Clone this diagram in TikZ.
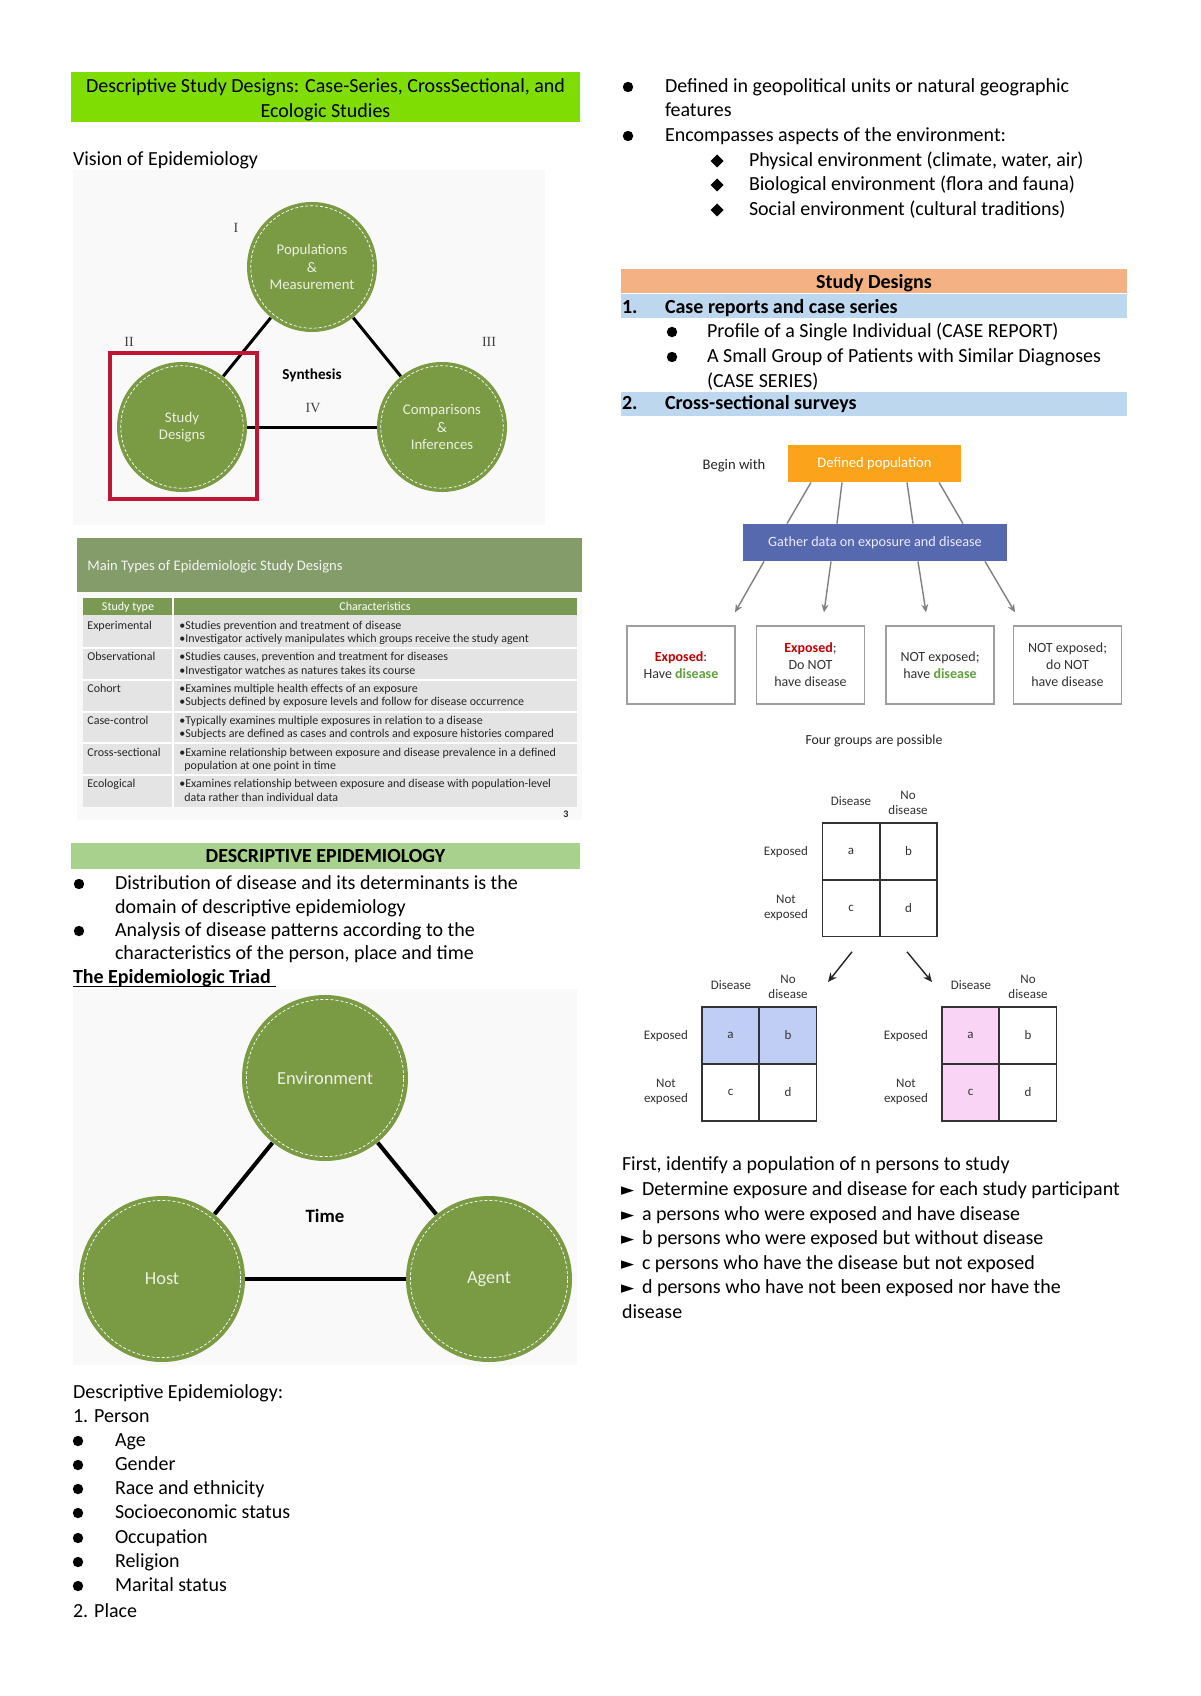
\documentclass[tikz,border=0pt]{standalone}
\usepackage{fontspec}
\setmainfont{Carlito}
\newfontfamily\djv{DejaVu Sans}
\newfontfamily\romanfont{Liberation Serif}
\usetikzlibrary{arrows.meta}
\definecolor{hdrgreen}{RGB}{127,221,3}
\definecolor{lgreen}{RGB}{169,209,142}
\definecolor{sdorange}{RGB}{244,177,131}
\definecolor{sdblue}{RGB}{189,215,238}
\definecolor{circgreen}{RGB}{122,154,68}
\definecolor{circtext}{RGB}{235,240,225}
\definecolor{ttlgreen}{RGB}{132,156,106}
\definecolor{hdrrow}{RGB}{122,154,84}
\definecolor{tblgray}{RGB}{228,228,228}
\definecolor{redboxc}{RGB}{192,22,52}
\definecolor{popor}{RGB}{251,163,27}
\definecolor{gathblue}{RGB}{86,104,174}
\definecolor{exred}{RGB}{192,0,0}
\definecolor{disgreen}{RGB}{96,160,60}
\definecolor{cellblue}{RGB}{192,205,245}
\definecolor{cellpink}{RGB}{250,212,245}
\definecolor{imgbg}{RGB}{249,249,249}
\begin{document}
\begin{tikzpicture}[x=0.5pt,y=-0.5pt,
 tl/.style={anchor=base west, inner sep=0pt, outer sep=0pt, yshift=-0.5pt, font=\fontsize{10}{12.4}\selectfont},
 tcn/.style={anchor=base, inner sep=0pt, outer sep=0pt, yshift=-0.5pt, font=\fontsize{10}{12.4}\selectfont},
 vcirc/.style={circle, fill=circgreen, minimum size=65pt, inner sep=0pt, text=circtext, align=center, font=\fontsize{7.4}{8.6}\selectfont},
 tcirc/.style={circle, fill=circgreen, minimum size=83pt, inner sep=0pt, text=circtext, align=center, font=\fontsize{9.2}{11}\selectfont},
 ring/.style={white, line width=0.35pt, dash pattern=on 1.5pt off 1pt},
 vline/.style={line width=1.5pt, black},
 tline/.style={line width=2pt, black},
 roman/.style={inner sep=0pt, font=\romanfont\fontsize{7}{8}\selectfont, text=black!75},
 tbl/.style={anchor=base west, inner sep=0pt, font=\fontsize{6}{7}\selectfont, text=black!85},
 fbox/.style={draw=gray!75, line width=0.7pt, fill=white, minimum width=54pt, minimum height=39pt, inner sep=0pt, align=center, font=\fontsize{7}{8.5}\selectfont, text=black!80},
 cell/.style={draw=black!80, line width=0.8pt, minimum size=28.5pt, inner sep=0pt, font=\fontsize{6.5}{7}\selectfont, text=black!80},
 lbl/.style={align=center, inner sep=0pt, font=\fontsize{6.5}{7.5}\selectfont, text=black!80},
 glin/.style={draw=gray, line width=0.7pt},
 garr/.style={draw=gray, line width=0.7pt, -{Stealth[length=4pt,width=3.5pt]}},
 barr/.style={draw=black!85, line width=0.7pt, -{Stealth[length=4.5pt,width=4pt]}}
]
\useasboundingbox (0,0) rectangle (1200,1696);
\fill[white] (0,0) rectangle (1200,1696);

% ================= LEFT COLUMN =================
\fill[hdrgreen] (71,72) rectangle (580,122);
\node[tcn] (h1) at (325.5,91.5) {Descriptive Study Designs: Case-Series, CrossSectional, and};
\node[tcn] (h2) at (325.5,116.5) {Ecologic Studies};
\node[tl] (vis) at (73,165) {Vision of Epidemiology};

% Vision diagram
\fill[imgbg] (73,170) rectangle (545,525);
\node[vcirc] (pop) at (312,267) {Populations\\\&\\Measurement};
\node[vcirc] (study) at (182,427) {Study\\Designs};
\node[vcirc] (comp) at (442,427) {Comparisons\\\&\\Inferences};
\foreach \c in {pop,study,comp} \draw[ring] (\c.center) circle (30.6pt);
\draw[vline] (pop) -- (study);
\draw[vline] (pop) -- (comp);
\draw[vline] (study) -- (comp);
\node[draw=redboxc, line width=2pt, minimum width=73.5pt, minimum height=73pt, inner sep=0pt] (rbox) at (183.5,426) {};
\node[roman] (r1) at (236,228) {I};
\node[roman] (r2) at (129,342) {II};
\node[roman] (r3) at (489,342) {III};
\node[roman] (r4) at (313,408) {IV};
\node[inner sep=0pt, font=\bfseries\fontsize{7.6}{9}\selectfont] (syn) at (312,375) {Synthesis};

% Main types table
\fill[imgbg] (77,538) rectangle (582,820);
\fill[ttlgreen] (77,538) rectangle (582,592);
\node[anchor=base west, inner sep=0pt, font=\fontsize{7.3}{9}\selectfont, text=white!92!gray] (ttl) at (87,570) {Main Types of Epidemiologic Study Designs};
\fill[hdrrow] (83,598) rectangle (577,615);
\fill[tblgray] (83,615) rectangle (577,807);
\draw[white, line width=0.6pt] (173,598) -- (173,807);
\foreach \yy in {648,680,712,743,775} \draw[white, line width=0.6pt] (83,\yy) -- (577,\yy);
\node[tbl, anchor=base, text=white] (th1) at (128,610) {Study type};
\node[tbl, anchor=base, text=white] (th2) at (375,610) {Characteristics};
\node[tbl] (e0) at (87,629) {Experimental};
\node[tbl] (e1) at (179,629) {•Studies prevention and treatment of disease};
\node[tbl] (e2) at (179,642) {•Investigator actively manipulates which groups receive the study agent};
\node[tbl] (o0) at (87,660) {Observational};
\node[tbl] (o1) at (179,660) {•Studies causes, prevention and treatment for diseases};
\node[tbl] (o2) at (179,674) {•Investigator watches as natures takes its course};
\node[tbl] (c0) at (87,692) {Cohort};
\node[tbl] (c1) at (179,692) {•Examines multiple health effects of an exposure};
\node[tbl] (c2) at (179,705) {•Subjects defined by exposure levels and follow for disease occurrence};
\node[tbl] (k0) at (87,724) {Case-control};
\node[tbl] (k1) at (179,724) {•Typically examines multiple exposures in relation to a disease};
\node[tbl] (k2) at (179,737) {•Subjects are defined as cases and controls and exposure histories compared};
\node[tbl] (s0) at (87,756) {Cross-sectional};
\node[tbl] (s1) at (179,756) {•Examine relationship between exposure and disease prevalence in a defined};
\node[tbl] (s2) at (184,769) {population at one point in time};
\node[tbl] (g0) at (87,787) {Ecological};
\node[tbl] (g1) at (179,787) {•Examines relationship between exposure and disease with population-level};
\node[tbl] (g2) at (184,801) {data rather than individual data};
\node[tbl, font=\bfseries\fontsize{5}{6}\selectfont] (pg) at (563,817) {3};

% Descriptive epidemiology
\fill[lgreen] (71,843) rectangle (580,869);
\node[tcn, font=\bfseries\fontsize{10}{12.4}\selectfont] (de) at (325.5,861) {DESCRIPTIVE EPIDEMIOLOGY};
\fill (79,884) circle[radius=2.6pt];
\fill (79,931) circle[radius=2.6pt];
\node[tl] (d1) at (115,888) {Distribution of disease and its determinants is the};
\node[tl] (d2) at (115,912) {domain of descriptive epidemiology};
\node[tl] (d3) at (115,935) {Analysis of disease patterns according to the};
\node[tl] (d4) at (115,958) {characteristics of the person, place and time};
\node[tl] (tri) at (73,982) {\textbf{The Epidemiologic Triad}};
\draw[line width=0.6pt] ([yshift=-1.8pt]tri.base west) -- ([yshift=-1.8pt,xshift=2.6pt]tri.base east);

% Triad
\fill[imgbg] (73,989) rectangle (577,1365);
\node[tcirc] (env) at (325,1078) {Environment};
\node[tcirc] (host) at (162,1279) {Host};
\node[tcirc] (agent) at (489,1279) {Agent};
\foreach \c in {env,host,agent} \draw[ring] (\c.center) circle (39.3pt);
\draw[tline] (env) -- (host);
\draw[tline] (env) -- (agent);
\draw[tline] (host) -- (agent);
\node[inner sep=0pt, font=\bfseries\fontsize{9.4}{11}\selectfont] (time) at (325,1216) {Time};

% Person list
\node[tl] (dsc) at (73,1397) {Descriptive Epidemiology:};
\node[tl] (p1) at (73,1421) {1. Person};
\foreach \yy/\tx in {1440/Age,1464/Gender,1488/Race and ethnicity,1512/Socioeconomic status,1537/Occupation,1561/Religion,1585/Marital status}{
  \fill (78,\yy+1) circle[radius=2.6pt];
  \node[tl] at (115,\yy+5) {\tx};
}
\node[tl] (p2) at (73,1616) {2. Place};

% ================= RIGHT COLUMN =================
\fill (628,87) circle[radius=2.6pt];
\fill (628,136) circle[radius=2.6pt];
\node[tl] (r1a) at (665,91.5) {Defined in geopolitical units or natural geographic};
\node[tl] (r1b) at (665,115.5) {features};
\node[tl] (r2a) at (665,140.5) {Encompasses aspects of the environment:};
\foreach \yy/\tx in {161/{Physical environment (climate, water, air)},185/{Biological environment (flora and fauna)},210/{Social environment (cultural traditions)}}{
  \fill (717,\yy-6.5) -- (723.5,\yy) -- (717,\yy+6.5) -- (710.5,\yy) -- cycle;
  \node[tl] at (749,\yy+4.5) {\tx};
}

\fill[sdorange] (621,269) rectangle (1127,293);
\node[tcn, font=\bfseries\fontsize{10}{12.4}\selectfont] (sd) at (874,287.5) {Study Designs};
\fill[sdblue] (621,294) rectangle (1127,318);
\node[tl, font=\bfseries\fontsize{10}{12.4}\selectfont] (n1) at (622,312.5) {1.};
\node[tl, font=\bfseries\fontsize{10}{12.4}\selectfont] (n1t) at (665,312.5) {Case reports and case series};
\fill (672,332) circle[radius=2.6pt];
\fill (672,357) circle[radius=2.6pt];
\node[tl] (cr1) at (707,336.5) {Profile of a Single Individual (CASE REPORT)};
\node[tl] (cr2) at (707,361.5) {A Small Group of Patients with Similar Diagnoses};
\node[tl] (cr3) at (707,386.5) {(CASE SERIES)};
\fill[sdblue] (621,392) rectangle (1127,416);
\node[tl, font=\bfseries\fontsize{10}{12.4}\selectfont] (n2) at (622,408.5) {2.};
\node[tl, font=\bfseries\fontsize{10}{12.4}\selectfont] (n2t) at (665,408.5) {Cross-sectional surveys};

% Flowchart
\node[inner sep=0pt, font=\fontsize{7.3}{9}\selectfont, text=black!85] (begin) at (734,466) {Begin with};
\node[fill=popor, minimum width=86.5pt, minimum height=18.5pt, inner sep=0pt, text=white, font=\fontsize{7.3}{9}\selectfont] (defpop) at (874.5,463.5) {Defined population};
\node[fill=gathblue, minimum width=132pt, minimum height=18.5pt, inner sep=0pt, text=white!92!blue, font=\fontsize{7.1}{9}\selectfont] (gather) at (875,542.5) {Gather data on exposure and disease};
\draw[glin] ([xshift=-31.75pt]defpop.south) -- ([xshift=-44pt]gather.north);
\draw[glin] ([xshift=-16.25pt]defpop.south) -- ([xshift=-19pt]gather.north);
\draw[glin] ([xshift=16.25pt]defpop.south) -- ([xshift=19pt]gather.north);
\draw[glin] ([xshift=32.25pt]defpop.south) -- ([xshift=44pt]gather.north);

\node[fbox] (g1) at (681,665) {{\color{exred}\bfseries Exposed}:\\Have {\color{disgreen}\bfseries disease}};
\node[fbox] (g2) at (810.5,665) {{\color{exred}\bfseries Exposed};\\Do NOT\\have disease};
\node[fbox] (g3) at (940,665) {NOT exposed;\\have {\color{disgreen}\bfseries disease}};
\node[fbox] (g4) at (1067.5,665) {NOT exposed;\\do NOT\\have disease};
\draw[garr] ([xshift=-55.5pt]gather.south) -- ([xshift=27pt,yshift=6.5pt]g1.north);
\draw[garr] ([xshift=-22pt]gather.south) -- ([xshift=6.75pt,yshift=6.5pt]g2.north);
\draw[garr] ([xshift=21.5pt]gather.south) -- ([xshift=-7pt,yshift=6.5pt]g3.north);
\draw[garr] ([xshift=55pt]gather.south) -- ([xshift=-26.25pt,yshift=6.5pt]g4.north);
\node[inner sep=0pt, font=\fontsize{6.9}{8}\selectfont, text=black!85] (four) at (874,741) {Four groups are possible};

% Top 2x2
\node[cell] (ta) at (851,851.5) {a};
\node[cell] (tb) at (908.5,851.5) {b};
\node[cell] (tc) at (851,908) {c};
\node[cell] (td) at (908.5,908) {d};
\node[lbl] (tdis) at (851,801) {Disease};
\node[lbl] (tnod) at (908,802.5) {No\\disease};
\node[lbl] (texp) at (786,852) {Exposed};
\node[lbl] (tnex) at (786,908) {Not\\exposed};

% Bottom-left 2x2
\node[cell, fill=cellblue] (la) at (730.5,1035.5) {a};
\node[cell, fill=cellblue] (lb) at (788,1035.5) {b};
\node[cell] (lc) at (730.5,1092.5) {c};
\node[cell] (ld) at (788,1092.5) {d};
\node[lbl] (ldis) at (731,985) {Disease};
\node[lbl] (lnod) at (788,986.5) {No\\disease};
\node[lbl] (lexp) at (666,1036) {Exposed};
\node[lbl] (lnex) at (666,1092) {Not\\exposed};

% Bottom-right 2x2
\node[cell, fill=cellpink] (ra) at (970.5,1035.5) {a};
\node[cell] (rb) at (1028,1035.5) {b};
\node[cell, fill=cellpink] (rc) at (970.5,1092.5) {c};
\node[cell] (rd) at (1028,1092.5) {d};
\node[lbl] (rdis) at (971,985) {Disease};
\node[lbl] (rnod) at (1028,986.5) {No\\disease};
\node[lbl] (rexp) at (906,1036) {Exposed};
\node[lbl] (rnex) at (906,1092) {Not\\exposed};

\coordinate (ae1) at (828,982);
\coordinate (ae2) at (932,982);
\draw[barr] ([xshift=0.5pt,yshift=-7.25pt]tc.south) -- (ae1);
\draw[barr] ([xshift=-0.75pt,yshift=-7.25pt]td.south) -- (ae2);

% Bottom right text
\node[tl] (f0) at (622,1169) {First, identify a population of n persons to study};
\foreach \yy/\tx in {1194/{Determine exposure and disease for each study participant},1219/{a persons who were exposed and have disease},1243/{b persons who were exposed but without disease},1268/{c persons who have the disease but not exposed},1292/{d persons who have not been exposed nor have the}}{
  \node[tl, font=\djv\fontsize{8.5}{9}\selectfont] at (621,\yy) {►};
  \node[tl] at (642,\yy) {\tx};
}
\node[tl] (f6) at (622,1317) {disease};
\end{tikzpicture}
\end{document}
